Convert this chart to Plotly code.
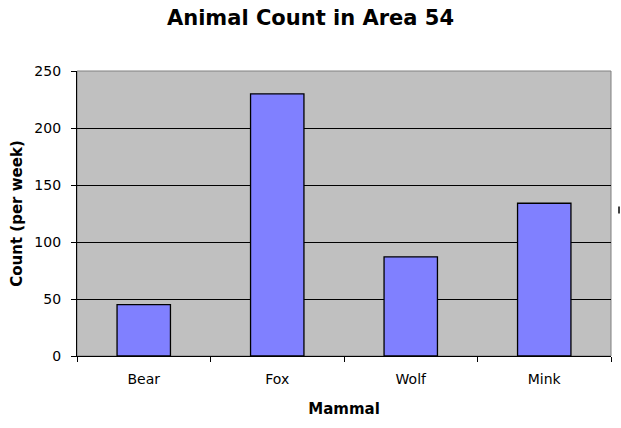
import plotly.graph_objects as go

# Data
mammals = ["Bear", "Fox", "Wolf", "Mink"]
counts = [45, 230, 87, 134]
y_ticks = [0, 50, 100, 150, 200, 250]

fig = go.Figure()

fig.add_trace(go.Bar(
    x=mammals,
    y=counts,
    marker=dict(color="#8080FF", line=dict(color="black", width=1.3)),
    showlegend=False
))

fig.update_layout(
    width=621,
    height=428,
    margin=dict(l=77, r=10, t=71, b=72),
    paper_bgcolor="white",
    plot_bgcolor="#C0C0C0",
    bargap=0.6,
    font=dict(family="DejaVu Sans", size=12, color="black"),
    title=dict(
        text="<b>Animal Count in Area 54</b>",
        x=0.5, xanchor="center",
        y=0.958, yanchor="middle",
        font=dict(family="DejaVu Sans", size=21, color="black")
    ),
)

fig.update_xaxes(
    title=dict(text="<b>Mammal</b>", font=dict(size=15), standoff=17),
    automargin=False,
    showline=True, linecolor="black", linewidth=1.3,
    ticks="outside", tickson="boundaries", ticklen=5, tickcolor="black",
    ticklabelstandoff=10,
    showgrid=False,
    tickfont=dict(size=14),
    mirror=False
)

fig.update_yaxes(
    title=dict(text="<b>Count (per week)</b>", font=dict(size=15), standoff=8),
    automargin=False,
    range=[0, 250],
    tickvals=y_ticks,
    ticks="outside", ticklen=5, tickcolor="black",
    ticklabelstandoff=7,
    showline=True, linecolor="black", linewidth=1.3,
    showgrid=True, gridcolor="black", gridwidth=1.3,
    zeroline=False,
    tickfont=dict(size=14)
)

# gray frame on the top and right
fig.add_shape(type="rect", xref="paper", yref="paper", x0=0, y0=0, x1=1, y1=1,
              line=dict(color="#808080", width=1), layer="below")

# small stray legend mark to the right of the plot
fig.add_shape(type="line", xref="paper", yref="paper", x0=1.015, x1=1.015,
              y0=0.50, y1=0.525, line=dict(color="black", width=1.5))

# drop the default page margin so the figure sits at the top-left corner
fig.write_html("out.html", config={"displayModeBar": False},
               post_script="document.body.style.margin='0';")
